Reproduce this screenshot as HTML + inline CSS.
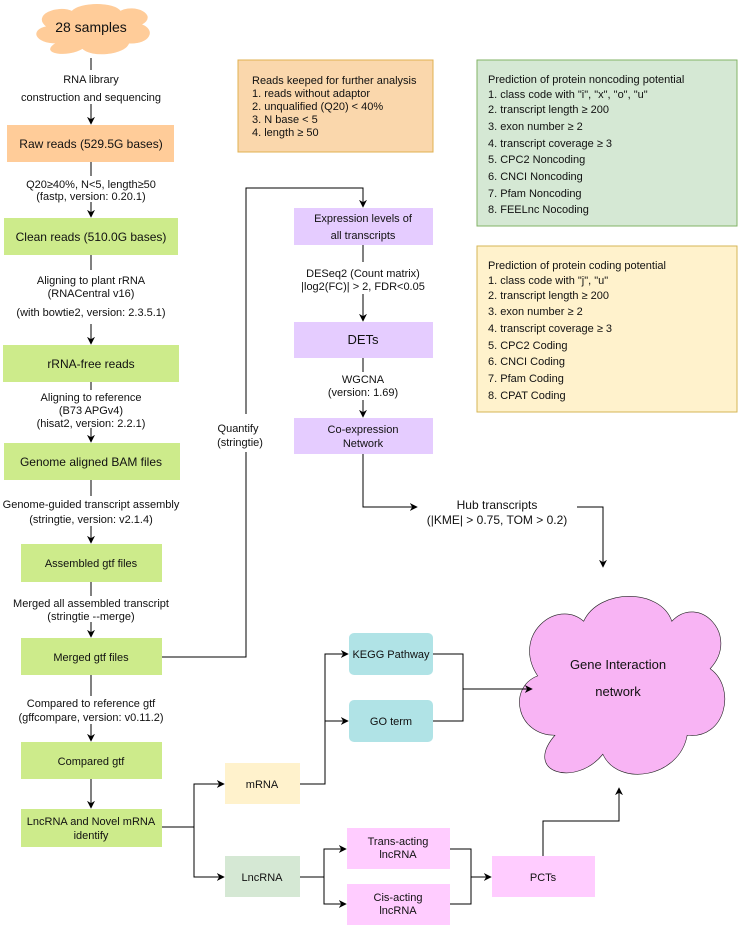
<!DOCTYPE html>
<html><head><meta charset="utf-8"><style>
html,body{margin:0;padding:0;background:#fff;}
svg{display:block;font-family:"Liberation Sans",Arial,sans-serif;}
</style></head><body>
<svg width="738" height="926" viewBox="0 0 738 926" xmlns="http://www.w3.org/2000/svg">
<defs>
<marker id="a" viewBox="0 0 10 10" refX="9" refY="5" markerWidth="8" markerHeight="8" orient="auto" markerUnits="userSpaceOnUse"><path d="M0,0 L10,5 L0,10 L3,5 Z" fill="#000"/></marker>
</defs>
<g font-size="11" fill="#111" text-anchor="middle">
<!-- top cloud -->
<svg x="30" y="2" width="126" height="53" viewBox="0 0 120 80" preserveAspectRatio="none">
<path d="M25 62 C5 62 0 42 16 37 C2 20 26 4 40 14 C48 0 80 0 86 14 C100 2 122 20 106 34 C120 42 114 64 94 62 C90 80 58 84 50 70 C36 84 8 78 25 62 Z" fill="#ffcc99" stroke="#ffcc99"/>
</svg>
<text x="91" y="32" font-size="14">28 samples</text>

<!-- left column lines -->
<g stroke="#000" stroke-width="1" fill="none">
<line x1="91" y1="58" x2="91" y2="70"/>
<line x1="91" y1="104" x2="91" y2="124" marker-end="url(#a)"/>
<line x1="91" y1="162" x2="91" y2="176"/>
<line x1="91" y1="202" x2="91" y2="217" marker-end="url(#a)"/>
<line x1="91" y1="255" x2="91" y2="270"/>
<line x1="91" y1="324" x2="91" y2="344" marker-end="url(#a)"/>
<line x1="91" y1="382" x2="91" y2="390"/>
<line x1="91" y1="428" x2="91" y2="442" marker-end="url(#a)"/>
<line x1="91" y1="480" x2="91" y2="496"/>
<line x1="91" y1="526" x2="91" y2="543" marker-end="url(#a)"/>
<line x1="91" y1="582" x2="91" y2="596"/>
<line x1="91" y1="622" x2="91" y2="637" marker-end="url(#a)"/>
<line x1="91" y1="675" x2="91" y2="696"/>
<line x1="91" y1="724" x2="91" y2="741" marker-end="url(#a)"/>
<line x1="91" y1="779" x2="91" y2="808" marker-end="url(#a)"/>
</g>
<text x="91" y="83">RNA library</text>
<text x="91" y="101">construction and sequencing</text>
<rect x="7" y="125" width="167" height="37" fill="#ffcc99"/>
<text x="91" y="148" font-size="12">Raw reads (529.5G bases)</text>
<text x="91" y="188">Q20≥40%, N&lt;5, length≥50</text>
<text x="91" y="200">(fastp, version: 0.20.1)</text>
<rect x="4" y="218" width="174" height="37" fill="#cdeb8b"/>
<text x="91" y="241" font-size="12">Clean reads (510.0G bases)</text>
<text x="91" y="284">Aligning to plant rRNA</text>
<text x="91" y="297">(RNACentral v16)</text>
<text x="91" y="316">(with bowtie2, version: 2.3.5.1)</text>
<rect x="3" y="345" width="176" height="37" fill="#cdeb8b"/>
<text x="91" y="368" font-size="12">rRNA-free reads</text>
<text x="91" y="401">Aligning to reference</text>
<text x="91" y="414">(B73 APGv4)</text>
<text x="91" y="427">(hisat2, version: 2.2.1)</text>
<rect x="4" y="443" width="176" height="37" fill="#cdeb8b"/>
<text x="91" y="466" font-size="12">Genome aligned BAM files</text>
<text x="91" y="508">Genome-guided transcript assembly</text>
<text x="91" y="523">(stringtie, version: v2.1.4)</text>
<rect x="21" y="544" width="141" height="38" fill="#cdeb8b"/>
<text x="91" y="567">Assembled gtf files</text>
<text x="91" y="607">Merged all assembled transcript</text>
<text x="91" y="620">(stringtie --merge)</text>
<rect x="21" y="638" width="141" height="37" fill="#cdeb8b"/>
<text x="91" y="661">Merged gtf files</text>
<text x="91" y="707">Compared to reference gtf</text>
<text x="91" y="721">(gffcompare, version: v0.11.2)</text>
<rect x="21" y="742" width="141" height="37" fill="#cdeb8b"/>
<text x="91" y="765">Compared gtf</text>
<rect x="21" y="809" width="141" height="38" fill="#cdeb8b"/>
<text x="91" y="825">LncRNA and Novel mRNA</text>
<text x="91" y="839">identify</text>

<!-- quantify connector -->
<g stroke="#000" fill="none">
<path d="M162 657 H246 V452"/>
<path d="M246 414 V188 H363 V207" marker-end="url(#a)"/>
</g>
<text x="238" y="432">Quantify</text>
<text x="240" y="446">(stringtie)</text>

<!-- orange notes box -->
<rect x="238" y="60" width="195" height="92" fill="#fad7ac" stroke="#e0b050"/>
<g text-anchor="start">
<text x="252" y="84">Reads keeped for further analysis</text>
<text x="252" y="97">1. reads without adaptor</text>
<text x="252" y="110">2. unqualified (Q20) &lt; 40%</text>
<text x="252" y="123">3. N base &lt; 5</text>
<text x="252" y="136">4. length ≥ 50</text>
</g>

<!-- green predict box -->
<rect x="477" y="60" width="260" height="166" fill="#d5e8d4" stroke="#82b366"/>
<g text-anchor="start">
<text x="488" y="83">Prediction of protein noncoding potential</text>
<text x="488" y="98">1. class code with "i", "x", "o", "u"</text>
<text x="488" y="113">2. transcript length ≥ 200</text>
<text x="488" y="130">3. exon number ≥ 2</text>
<text x="488" y="147">4. transcript coverage ≥ 3</text>
<text x="488" y="163">5. CPC2 Noncoding</text>
<text x="488" y="180">6. CNCI Noncoding</text>
<text x="488" y="197">7. Pfam Noncoding</text>
<text x="488" y="213">8. FEELnc Nocoding</text>
</g>
<!-- yellow box -->
<rect x="477" y="246" width="260" height="166" fill="#fff2cc" stroke="#d6b656"/>
<g text-anchor="start">
<text x="488" y="269">Prediction of protein coding potential</text>
<text x="488" y="284">1. class code with "j", "u"</text>
<text x="488" y="299">2. transcript length ≥ 200</text>
<text x="488" y="315">3. exon number ≥ 2</text>
<text x="488" y="332">4. transcript coverage ≥ 3</text>
<text x="488" y="349">5. CPC2 Coding</text>
<text x="488" y="365">6. CNCI Coding</text>
<text x="488" y="382">7. Pfam Coding</text>
<text x="488" y="399">8. CPAT Coding</text>
</g>

<!-- purple column -->
<rect x="294" y="208" width="139" height="37" fill="#e5ccff"/>
<text x="363" y="222">Expression levels of</text>
<text x="363" y="239">all transcripts</text>
<g stroke="#000" fill="none">
<line x1="363" y1="245" x2="363" y2="262"/>
<line x1="363" y1="294" x2="363" y2="321" marker-end="url(#a)"/>
<line x1="363" y1="358" x2="363" y2="372"/>
<line x1="363" y1="400" x2="363" y2="417" marker-end="url(#a)"/>
<path d="M363 454 V507 H417" marker-end="url(#a)"/>
<path d="M577 507 H603 V567" marker-end="url(#a)"/>
</g>
<text x="363" y="277">DESeq2 (Count matrix)</text>
<text x="363" y="290">|log2(FC)| &gt; 2, FDR&lt;0.05</text>
<rect x="294" y="322" width="139" height="36" fill="#e5ccff"/>
<text x="363" y="344" font-size="13">DETs</text>
<text x="363" y="383">WGCNA</text>
<text x="363" y="396">(version: 1.69)</text>
<rect x="294" y="418" width="139" height="36" fill="#e5ccff"/>
<text x="363" y="433">Co-expression</text>
<text x="363" y="447">Network</text>
<text x="497" y="509" font-size="12">Hub transcripts</text>
<text x="497" y="524" font-size="12">(|KME| &gt; 0.75, TOM &gt; 0.2)</text>

<!-- big cloud -->
<svg x="507" y="588" width="230" height="190" viewBox="0 0 120 80" preserveAspectRatio="none">
<path d="M25 62 C5 62 0 42 16 37 C2 20 26 4 40 14 C48 0 80 0 86 14 C100 2 122 20 106 34 C120 42 114 64 94 62 C90 80 58 84 50 70 C36 84 8 78 25 62 Z" fill="#f8b4f4" stroke="#222" stroke-width="0.6" vector-effect="non-scaling-stroke"/>
</svg>
<text x="618" y="669" font-size="13">Gene Interaction</text>
<text x="618" y="696" font-size="13">network</text>

<!-- bottom part -->
<g stroke="#000" fill="none">
<path d="M162 827 H194 V784 H224" marker-end="url(#a)"/>
<path d="M194 827 V877 H224" marker-end="url(#a)"/>
<path d="M300 784 H325 V654 H348" marker-end="url(#a)"/>
<path d="M325 721 H348" marker-end="url(#a)"/>
<path d="M433 654 H463 V721 H433"/>
<path d="M463 689 H532" marker-end="url(#a)"/>
<path d="M300 877 H324 V849 H346" marker-end="url(#a)"/>
<path d="M324 877 V904 H346" marker-end="url(#a)"/>
<path d="M450 849 H471 V904 H450"/>
<path d="M471 877 H491" marker-end="url(#a)"/>
<path d="M543 856 V821 H619 V788" marker-end="url(#a)"/>
</g>
<rect x="225" y="763" width="75" height="41" fill="#fff2cc"/>
<text x="262" y="788">mRNA</text>
<rect x="225" y="856" width="75" height="41" fill="#d5e8d4"/>
<text x="262" y="881">LncRNA</text>
<rect x="349" y="633" width="84" height="42" rx="5" fill="#b0e3e6"/>
<text x="391" y="658">KEGG Pathway</text>
<rect x="349" y="700" width="84" height="42" rx="5" fill="#b0e3e6"/>
<text x="391" y="725">GO term</text>
<rect x="347" y="828" width="103" height="41" fill="#ffccff"/>
<text x="398" y="845">Trans-acting</text>
<text x="398" y="858">lncRNA</text>
<rect x="347" y="884" width="103" height="41" fill="#ffccff"/>
<text x="398" y="901">Cis-acting</text>
<text x="398" y="914">lncRNA</text>
<rect x="492" y="856" width="103" height="41" fill="#ffccff"/>
<text x="543" y="881">PCTs</text>
</g>
</svg>
</body></html>
